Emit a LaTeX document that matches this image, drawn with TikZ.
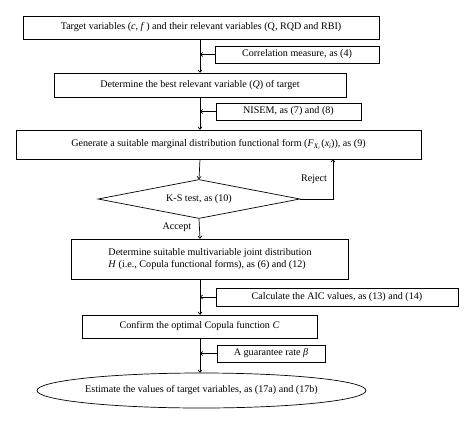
\documentclass[tikz,border=0pt]{standalone}
\usepackage{fontspec}
\setmainfont{Liberation Serif}
\usetikzlibrary{shapes.geometric,arrows.meta}
\begin{document}
\begin{tikzpicture}[x=1pt,y=-1pt,
  every node/.style={font=\fontsize{10.1}{12.5}\selectfont, inner sep=0pt},
  box/.style={draw, line width=0.7pt, rectangle},
  sidebox/.style={draw, line width=0.7pt, rectangle},
  arr/.style={draw, line width=0.7pt, -{To[length=3pt,width=4.5pt]}},
  lbl/.style={}]
\useasboundingbox (0,0) rectangle (474,424);
\fill[white] (0,0) rectangle (474,424);
\node[box, minimum width=356pt, minimum height=23pt] (b1) at (201,27.5)
  {Target variables (\textit{c}, \textit{f}\,) and their relevant variables (Q, RQD and RBI)};
\node[sidebox, minimum width=164pt, minimum height=17pt] (s1) at (297,54.5)
  {Correlation measure, as (4)};
\node[box, minimum width=292pt, minimum height=24pt] (b2) at (200,85)
  {Determine the best relevant variable (\textit{Q}) of target};
\node[sidebox, minimum width=145pt, minimum height=17pt] (s2) at (288.5,111.5)
  {NISEM, as (7) and (8)};
\node[box, minimum width=405pt, minimum height=29pt] (b3) at (218.5,144.5)
  {Generate a suitable marginal distribution functional form (\textit{F}\raisebox{-0.45ex}{\fontsize{7}{8}\selectfont\textit{X}\raisebox{-0.35ex}{\fontsize{5}{6}\selectfont\textit{i}}}\,(\textit{x}\raisebox{-0.45ex}{\fontsize{7}{8}\selectfont\textit{i}})), as (9)};
\node[draw, line width=0.7pt, diamond, aspect=5, minimum width=202pt, minimum height=39pt] (d) at (199,199)
  {K-S test, as (10)};
\node[box, minimum width=277pt, minimum height=40pt, align=left] (b4) at (210,259)
  {Determine suitable multivariable joint distribution\\ \textit{H} (i.e., Copula functional forms), as (6) and (12)};
\node[sidebox, minimum width=242pt, minimum height=18pt] (s3) at (337,297)
  {Calculate the AIC values, as (13) and (14)};
\node[box, minimum width=235pt, minimum height=23pt] (b5) at (199.5,326.5)
  {Confirm the optimal Copula function \textit{C}};
\node[sidebox, minimum width=108pt, minimum height=17pt] (s4) at (271,353.5)
  {A guarantee rate \textit{β}};
\node[draw, line width=0.7pt, ellipse, minimum width=295pt, minimum height=35pt] (e) at (201.5,390.5)
  {Estimate the values of target variables, as (17a) and (17b)};
\node (rej) at (314,179) {Reject};
\node (acc) at (177,227.5) {Accept};
% spine
\coordinate (t1) at (200,27.5);
\coordinate (j1) at (200,54.5);
\coordinate (j2) at (200,111.5);
\coordinate (j3) at (200,297);
\coordinate (j4) at (200,353.5);
\coordinate (rc) at (333,199);
\draw[arr] (t1 |- b1.south) -- (t1 |- b2.north);
\draw[arr] (s1.west) -- (j1);
\draw[arr] (t1 |- b2.south) -- (t1 |- b3.north);
\draw[arr] (s2.west) -- (j2);
\draw[arr] (t1 |- b3.south) -- (d.north);
\draw[arr] (d.south) -- (t1 |- b4.north);
\draw[arr] (d.east) -- (rc) -- (rc |- b3.south);
\draw[arr] (t1 |- b4.south) -- (t1 |- b5.north);
\draw[arr] (s3.west) -- (j3);
\draw[arr] (t1 |- b5.south) -- (t1 |- e.north);
\draw[arr] (s4.west) -- (j4);
\end{tikzpicture}
\end{document}
